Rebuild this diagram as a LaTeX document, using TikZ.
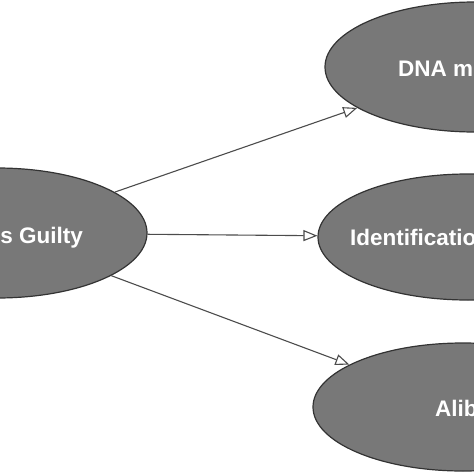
\documentclass[tikz,border=0pt]{standalone}
\usepackage{fontspec}
\setmainfont{Liberation Sans}
\usepackage{tikz}
\usetikzlibrary{calc, shapes.geometric, arrows.meta}

\tikzset{
  hyp/.style={ellipse, draw=black!80, line width=1.2pt, fill=black!53,
    minimum width=300pt, inner sep=0pt},
  lbl/.style={text=white, inner sep=0pt, font=\fontsize{22.5}{27}\bfseries\selectfont},
  link/.style={draw=black!70, line width=1.1pt,
    -{Triangle[open, fill=white, length=14pt, width=11pt]}}
}

\begin{document}
\begin{tikzpicture}[x=1pt, y=-1pt]
  \useasboundingbox (0, 0) rectangle (474, 474);
  \clip (0, 0) rectangle (474, 474);
% hypothesis
  \draw (-3, 233) node[hyp, minimum height=130pt] (guilty) {};
  \draw (83, 243) node[lbl, anchor=base east] (tguilty) {s Guilty};
% evidence
  \draw (475, 67) node[hyp, minimum height=130pt] (dna) {};
  \draw (398, 76) node[lbl, anchor=base west] (tdna) {DNA m};

  \draw (468, 237) node[hyp, minimum height=126pt] (ident) {};
  \draw (350, 245) node[lbl, anchor=base west] (tident) {Identificatio};

  \draw (463, 407) node[hyp, minimum height=128pt] (alibi) {};
  \draw (435, 416) node[lbl, anchor=base west] (talibi) {Alib};

  \foreach \e in {dna, ident, alibi}{
    \draw[link] (guilty) -- (\e);
  }
\end{tikzpicture}
\end{document}
